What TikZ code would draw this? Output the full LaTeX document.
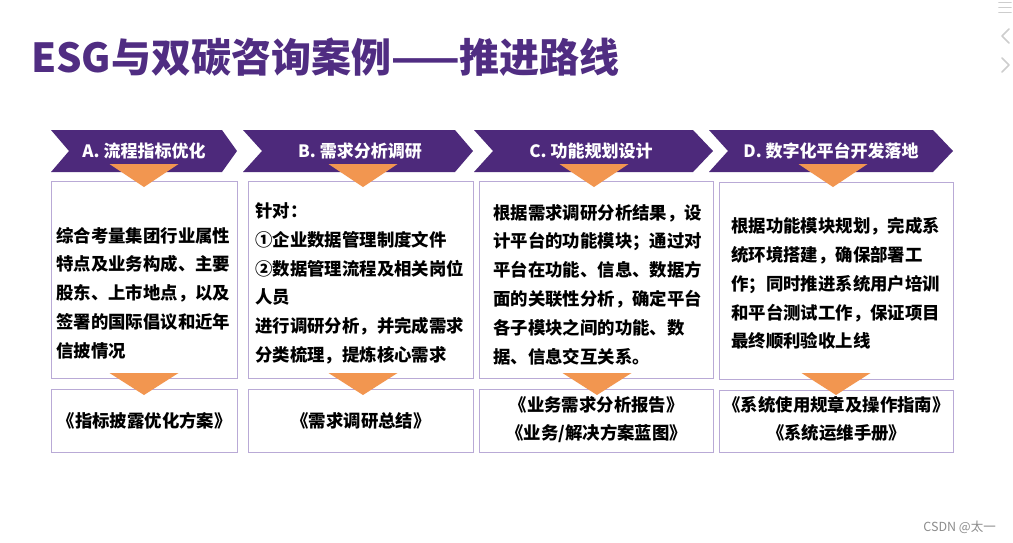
\documentclass[tikz,border=0pt]{standalone}
\usepackage{fontspec}
\setmainfont{Noto Sans CJK SC}
\definecolor{ttl}{RGB}{80,45,130}
\definecolor{chev}{RGB}{77,41,123}
\definecolor{org}{RGB}{242,150,80}
\definecolor{bord}{RGB}{185,170,214}
\definecolor{icon}{RGB}{205,205,205}
\begin{document}
\begin{tikzpicture}[x=1pt,y=-1pt,
  chevron/.style={fill=chev},
  chevlabel/.style={text=white,font=\bfseries\fontsize{17}{20}\selectfont,inner sep=0pt},
  box/.style={draw=bord,line width=1.3pt,fill=white,inner sep=0pt,anchor=north west},
  body/.style={font=\bfseries\fontsize{17.4}{28.8}\selectfont,align=left,inner sep=0pt,anchor=west},
  doc/.style={font=\bfseries\fontsize{17.4}{28}\selectfont,align=center,inner sep=0pt},
  tri/.style={fill=org},
  icn/.style={draw=icon,line width=1.6pt,line cap=round,line join=round}]
\useasboundingbox (0,0) rectangle (1013,542);
\fill[white] (0,0) rectangle (1013,542);

% title
\node[anchor=west,text=ttl,font=\bfseries\fontsize{40}{42}\selectfont,inner sep=0pt] (title) at (31,57) {ESG与双碳咨询案例——推进路线};

% chevrons
\fill[chevron] (51,130) -- (222,130) -- (237,151) -- (222,172) -- (51,172) -- (69,151) -- cycle;
\fill[chevron] (243,130) -- (455,130) -- (473,151) -- (455,172) -- (243,172) -- (262,151) -- cycle;
\fill[chevron] (474,130) -- (693,130) -- (713,151) -- (693,172) -- (474,172) -- (493,151) -- cycle;
\fill[chevron] (709,130) -- (933,130) -- (953,151) -- (933,172) -- (709,172) -- (728,151) -- cycle;

% middle boxes
\node[box,minimum width=186,minimum height=197] (mA) at (51,181) {};
\node[box,minimum width=225,minimum height=197] (mB) at (248,181) {};
\node[box,minimum width=234,minimum height=197] (mC) at (479,181) {};
\node[box,minimum width=234,minimum height=197] (mD) at (719,182) {};

% bottom boxes
\node[box,minimum width=186,minimum height=63] (dA) at (51,389) {};
\node[box,minimum width=225,minimum height=63] (dB) at (248,389) {};
\node[box,minimum width=234,minimum height=63] (dC) at (479,389) {};
\node[box,minimum width=234,minimum height=62] (dD) at (719,390) {};

% orange triangles (top)
\fill[tri] (109.5,164) -- (178.5,164) -- (144,187) -- cycle;
\fill[tri] (328.5,164) -- (397.5,164) -- (363,187) -- cycle;
\fill[tri] (559.5,164) -- (628.5,164) -- (594,187) -- cycle;
\fill[tri] (798.5,164) -- (867.5,164) -- (833,187) -- cycle;
% orange triangles (bottom)
\fill[tri] (109.5,373) -- (178.5,373) -- (144,395) -- cycle;
\fill[tri] (328.5,373) -- (397.5,373) -- (363,395) -- cycle;
\fill[tri] (562.5,373) -- (631.5,373) -- (597,395) -- cycle;
\fill[tri] (801.5,373) -- (870.5,373) -- (836,395) -- cycle;

% chevron labels
\node[chevlabel] (hA) at (144,151) {A. 流程指标优化};
\node[chevlabel] (hB) at (360,151) {B. 需求分析调研};
\node[chevlabel] (hC) at (591,151) {C. 功能规划设计};
\node[chevlabel] (hD) at (831,151) {D. 数字化平台开发落地};

% body texts
\node[body] (tA) at (56,293) {综合考量集团行业属性\\特点及业务构成、主要\\股东、上市地点，以及\\签署的国际倡议和近年\\信披情况};
\node[body] (tB) at (255,283.5) {针对：\\①企业数据管理制度文件\\②数据管理流程及相关岗位\\人员\\进行调研分析，并完成需求\\分类梳理，提炼核心需求};
\node[body] (tC) at (493,284.5) {根据需求调研分析结果，设\\计平台的功能模块；通过对\\平台在功能、信息、数据方\\面的关联性分析，确定平台\\各子模块之间的功能、数\\据、信息交互关系。};
\node[body] (tD) at (731,283.5) {根据功能模块规划，完成系\\统环境搭建，确保部署工\\作；同时推进系统用户培训\\和平台测试工作，保证项目\\最终顺利验收上线};

% deliverables
\node[doc] (oA) at (dA.center) {《指标披露优化方案》};
\node[doc] (oB) at (dB.center) {《需求调研总结》};
\node[doc] (oC) at ([yshift=2]dC.center) {《业务需求分析报告》\\《业务/解决方案蓝图》};
\node[doc] (oD) at ([yshift=3]dD.center) {《系统使用规章及操作指南》\\《系统运维手册》};

% watermark
\node[anchor=east,text=black!45,font=\fontsize{12.5}{14}\selectfont,inner sep=0pt] (wm) at (996,527) {CSDN @太一};

% side icons
\draw[icn] (999,2.5) -- (1011,2.5) (999,7.5) -- (1011,7.5) (999,12.5) -- (1011,12.5);
\draw[icn] (1009,29) -- (1002,36) -- (1009,43);
\draw[icn] (1002,58) -- (1009,65) -- (1002,72);
\end{tikzpicture}
\end{document}
